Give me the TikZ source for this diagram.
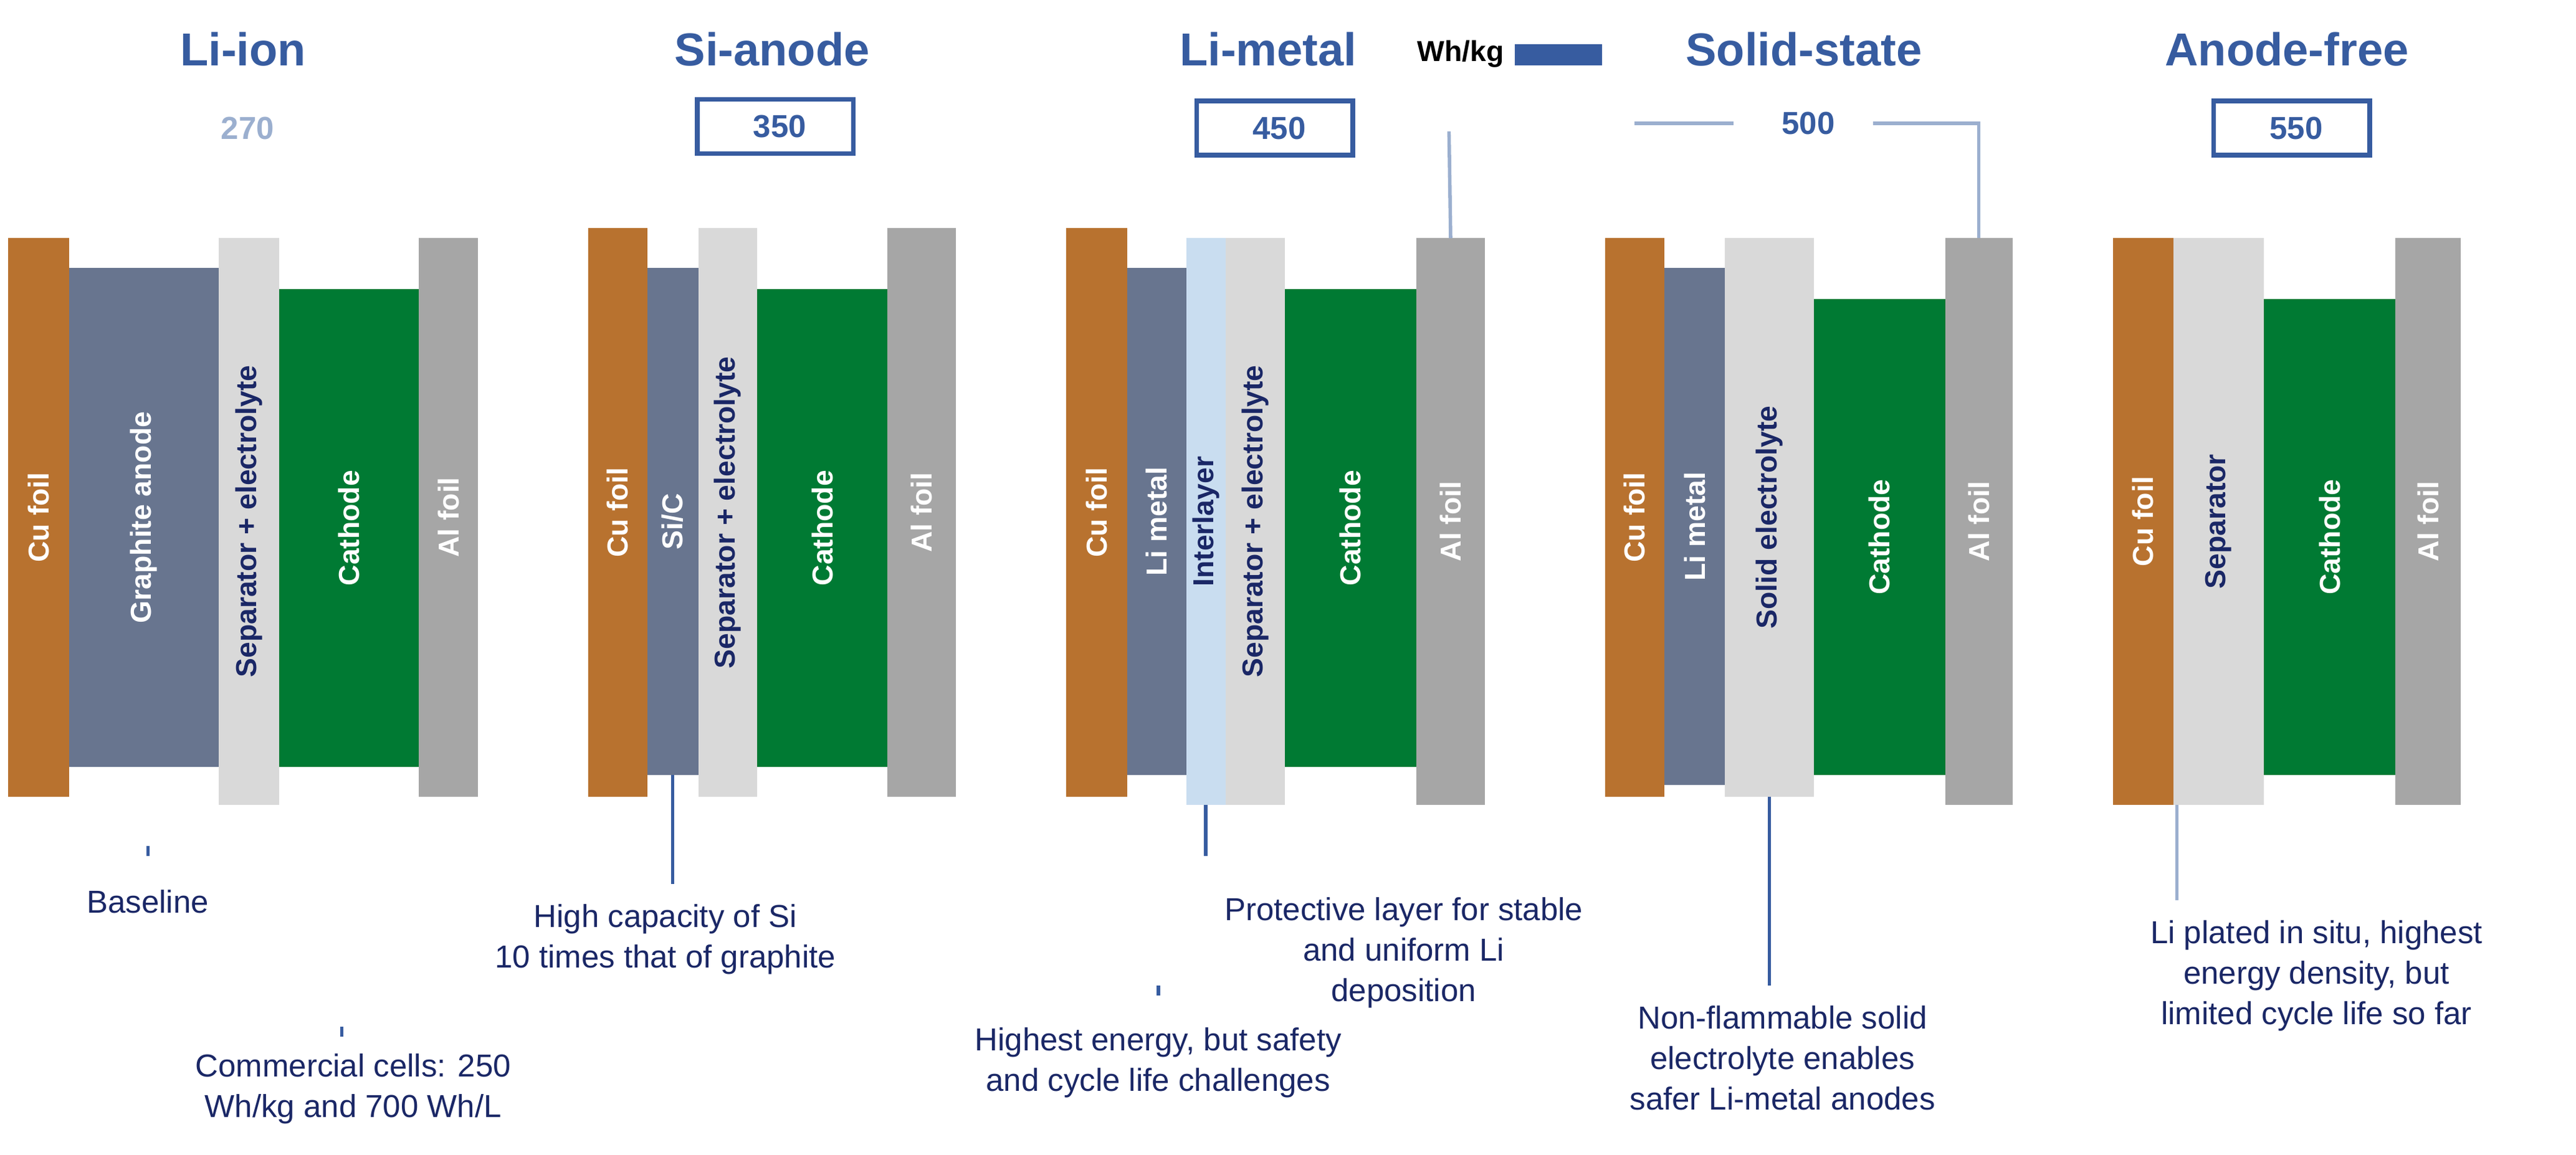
\documentclass[tikz,border=0pt]{standalone}
\usepackage{fontspec}
\setmainfont{Liberation Sans}
\usetikzlibrary{positioning}
\definecolor{copper}{HTML}{B8722F}
\definecolor{anodeblue}{HTML}{68758F}
\definecolor{sepgrey}{HTML}{D9D9D9}
\definecolor{cathgreen}{HTML}{007A33}
\definecolor{alugrey}{HTML}{A6A6A6}
\definecolor{interblue}{HTML}{C9DDF0}
\definecolor{titleblue}{HTML}{375CA0}
\definecolor{navy}{HTML}{1A2766}
\definecolor{paleblue}{HTML}{9BAFCF}
\tikzset{
  layer/.style={inner sep=0pt, outer sep=0pt, font=\bfseries\fontsize{5}{6}\selectfont},
  title/.style={font=\bfseries\fontsize{8}{10}\selectfont, text=titleblue},
  subbox/.style={draw=titleblue, line width=0.8pt, font=\bfseries\fontsize{5.5}{6.5}\selectfont, text=titleblue, minimum width=9.5mm, minimum height=3.3mm, inner sep=0pt},
  note/.style={font=\fontsize{5.5}{7}\selectfont, text=navy, align=center},
  lead/.style={draw=titleblue, line width=0.6pt},
  palelead/.style={draw=paleblue, line width=0.6pt}
}
% one layer of a cell: name, left, top, right, bottom, fill, text, text colour
\newcommand{\layer}[8]{%
  \node[layer, fill=#6, minimum width={(#4-#2)*0.1mm}, minimum height={(#5-#3)*0.1mm},
    text=#8] (#1) at ({(#2+#4)/2},{(#3+#5)/2}) {\rotatebox{90}{#7}};}
\begin{document}
\begin{tikzpicture}[x=0.1mm, y=-0.1mm]
  \useasboundingbox (0,0) rectangle (1568,703);
  % Li-ion
  \layer{lcu}{5}{145}{42}{485}{copper}{Cu foil}{white}
  \layer{lan}{42}{163}{133}{467}{anodeblue}{Graphite anode}{white}
  \layer{lsep}{133}{145}{170}{490}{sepgrey}{Separator + electrolyte}{navy}
  \layer{lcat}{170}{176}{255}{467}{cathgreen}{Cathode}{white}
  \layer{lal}{255}{145}{291}{485}{alugrey}{Al foil}{white}
  \node[title] (ltitle) at (148,30) {Li-ion};
  \node[font=\bfseries\fontsize{5.5}{6.5}\selectfont, text=paleblue] (lsub) at (148,78) {~270};
  \draw[lead] (90,515) -- (90,521);
  \node[note] (lnote) at (90,549) {Baseline};
  \draw[lead] (208,625) -- (208,631);
  \node[note] (lnote2) at (215,663) {Commercial cells: 250\\Wh/kg and 700 Wh/L};
  % Si-anode
  \layer{scu}{358}{139}{394}{485}{copper}{Cu foil}{white}
  \layer{san}{394}{163}{425}{472}{anodeblue}{Si/C}{white}
  \layer{ssep}{425}{139}{461}{485}{sepgrey}{Separator + electrolyte}{navy}
  \layer{scat}{461}{176}{540}{467}{cathgreen}{Cathode}{white}
  \layer{sal}{540}{139}{582}{485}{alugrey}{Al foil}{white}
  \node[title] (stitle) at (470,30) {Si-anode};
  \node[subbox] (ssub) at (472,77) {~350};
  \node[note] (snote) at (405,572) {High capacity of Si\\10 times that of graphite};
  \draw[lead] (san.south) -- (snote.north -| san.south);
  % Li-metal
  \layer{mcu}{649}{139}{686}{485}{copper}{Cu foil}{white}
  \layer{mli}{686}{163}{722}{472}{anodeblue}{Li metal}{white}
  \layer{mint}{722}{145}{746}{490}{interblue}{Interlayer}{navy}
  \layer{msep}{746}{145}{782}{490}{sepgrey}{Separator + electrolyte}{navy}
  \layer{mcat}{782}{176}{862}{467}{cathgreen}{Cathode}{white}
  \layer{mal}{862}{145}{904}{490}{alugrey}{Al foil}{white}
  \node[title] (mtitle) at (772,30) {Li-metal};
  \node[subbox] (msub) at (776,78) {~450};
  \node[font=\bfseries\fontsize{5}{6}\selectfont, inner sep=0pt, anchor=west] (mwh) at (862,33) {Wh/kg};
  \fill[titleblue] (922,27) rectangle (975,40);
  \coordinate (mtop) at (882,80);
  \draw[palelead] (mal.north) -- (mtop);
  \node[note, anchor=north west] (mnote) at (733,534) {Protective layer for stable\\and uniform Li\\deposition};
  \draw[lead] (mint.south) -- (734,521);
  \draw[lead] (705,600) -- (705,606);
  \node[note] (mnote2) at (705,647) {Highest energy, but safety\\and cycle life challenges};
  % Solid-state
  \layer{tcu}{977}{145}{1013}{485}{copper}{Cu foil}{white}
  \layer{tli}{1013}{163}{1050}{478}{anodeblue}{Li metal}{white}
  \layer{tsse}{1050}{145}{1104}{485}{sepgrey}{Solid electrolyte}{navy}
  \layer{tcat}{1104}{182}{1184}{472}{cathgreen}{Cathode}{white}
  \layer{tal}{1184}{145}{1225}{490}{alugrey}{Al foil}{white}
  \node[title] (ttitle) at (1098,30) {Solid-state};
  \node[font=\bfseries\fontsize{5.5}{6.5}\selectfont, text=titleblue] (tsub) at (1098,75) {~500};
  \draw[palelead] (995,75) -- (1055,75);
  \draw[palelead] (1140,75) -| (tal.north);
  \node[note] (tnote) at (1085,644) {Non-flammable solid\\electrolyte enables\\safer Li-metal anodes};
  \draw[lead] (tsse.south) -- (tnote.north -| tsse.south);
  % Anode-free
  \layer{fcu}{1286}{145}{1323}{490}{copper}{Cu foil}{white}
  \layer{fsep}{1323}{145}{1378}{490}{sepgrey}{Separator}{navy}
  \layer{fcat}{1378}{182}{1458}{472}{cathgreen}{Cathode}{white}
  \layer{fal}{1458}{145}{1498}{490}{alugrey}{Al foil}{white}
  \node[title] (ftitle) at (1392,30) {Anode-free};
  \node[subbox] (fsub) at (1395,78) {~550};
  \node[note] (fnote) at (1410,594) {Li plated in situ, highest\\energy density, but\\limited cycle life so far};
  \draw[palelead] (fsep.south west) ++(2,0) -- ++(0,58);
\end{tikzpicture}
\end{document}
